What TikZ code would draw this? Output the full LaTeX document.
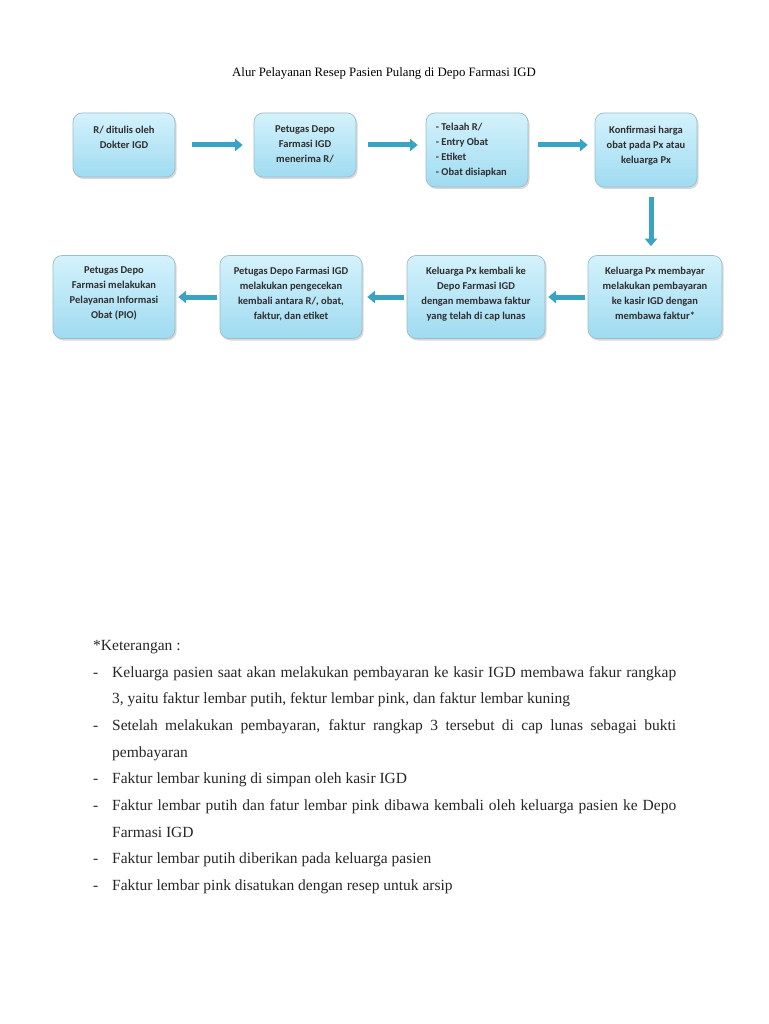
\documentclass[tikz,border=0pt]{standalone}
\usepackage{fontspec}
\setmainfont{Liberation Serif}
\newfontfamily\boxfont{Carlito}
\usetikzlibrary{arrows.meta,shadows,calc}

\definecolor{boxtop}{HTML}{D4F2FC}
\definecolor{boxbottom}{HTML}{9FDBF1}
\definecolor{boxline}{HTML}{9CBDCA}
\definecolor{flowblue}{HTML}{38A3C3}
\definecolor{boxink}{HTML}{2E2E2E}

\newcommand\catat{\hangindent=19pt\hangafter=1\noindent\makebox[19pt][l]{-}}

\tikzset{
	box/.style args={#1 by #2}{draw=boxline, line width=0.7pt, rounded corners=9pt,
		top color=boxtop, bottom color=boxbottom,
		drop shadow={opacity=0.3, shadow xshift=1.5pt, shadow yshift=-2pt},
		minimum width=#1, minimum height=#2, inner sep=0pt},
	boxtext/.style={font=\boxfont\bfseries\fontsize{10.5}{15}\selectfont, text=boxink,
		align=center, anchor=north, inner sep=0pt},
	flow/.style={draw=flowblue, line width=5pt,
		-{Triangle[width=12pt,length=7.5pt]}},
	notes/.style={font=\fontsize{15.5}{26.7}\selectfont, text=black!85,
		text width=583pt, align=justify, anchor=north west, inner sep=0pt}
}

\begin{document}
\begin{tikzpicture}[x=1pt,y=-1pt]
			%%%%% START %%%%%
			\fill[white] (0,0) rectangle (768,1024);
			\useasboundingbox (0,0) rectangle (768,1024);
			
			\node[font=\fontsize{12.8}{15}\selectfont] (judul) at (384,73) {Alur Pelayanan Resep Pasien Pulang di Depo Farmasi IGD};
			
			% top row
			\node[box=102pt by 64pt] (resep) at (124,145) {};
			\node[box=102pt by 64pt] (terima) at (305,145) {};
			\node[box=102pt by 74pt] (telaah) at (477,150) {};
			\node[box=102pt by 74pt] (konfirmasi) at (646,150) {};
			
			\node[boxtext] at ([yshift=-13pt]resep.north) {R/ ditulis oleh\\Dokter IGD};
			\node[boxtext] at ([yshift=-13pt]terima.north) {Petugas Depo\\Farmasi IGD\\menerima R/};
			\node[boxtext, align=left, anchor=north west] at ([xshift=10pt,yshift=-10.5pt]telaah.north west) {- Telaah R/\\- Entry Obat\\- Etiket\\- Obat disiapkan};
			\node[boxtext] at ([yshift=-13pt]konfirmasi.north) {Konfirmasi harga\\obat pada Px atau\\keluarga Px};
			
			% bottom row
			\node[box=134pt by 83pt] (bayar) at (655,297) {};
			\node[box=138pt by 83pt] (kembali) at (476,297) {};
			\node[box=142pt by 83pt] (cek) at (291,297) {};
			\node[box=122pt by 83pt] (pio) at (114,297) {};
			
			\node[boxtext] at ([yshift=-11.5pt]bayar.north) {Keluarga Px membayar\\melakukan pembayaran\\ke kasir IGD dengan\\membawa faktur*};
			\node[boxtext] at ([yshift=-11.5pt]kembali.north) {Keluarga Px kembali ke\\Depo Farmasi IGD\\dengan membawa faktur\\yang telah di cap lunas};
			\node[boxtext] at ([yshift=-11.5pt]cek.north) {Petugas Depo Farmasi IGD\\melakukan pengecekan\\kembali antara R/, obat,\\faktur, dan etiket};
			\node[boxtext] at ([yshift=-11.5pt]pio.north) {Petugas Depo\\Farmasi melakukan\\Pelayanan Informasi\\Obat (PIO)};
			
			% arrows
			\draw[flow, shorten <=17pt, shorten >=11pt] (resep.east) -- (resep.east -| terima.west);
			\draw[flow, shorten <=12pt, shorten >=8pt] (terima.east) -- (terima.east -| telaah.west);
			\draw[flow, shorten <=10pt, shorten >=7pt] (terima.east -| telaah.east) -- (terima.east -| konfirmasi.west);
			\draw[flow, shorten <=10pt, shorten >=9pt] ([xshift=5pt]konfirmasi.south) -- ([xshift=5pt]konfirmasi.south |- bayar.north);
			\draw[flow, shorten <=3pt, shorten >=3pt] (bayar.west) -- (kembali.east);
			\draw[flow, shorten <=3pt, shorten >=5pt] (kembali.west) -- (cek.east);
			\draw[flow, shorten <=3pt, shorten >=3pt] (cek.west) -- (pio.east);
			
			% keterangan
			\node[notes] (keterangan) at (93,640) {\hyphenpenalty=10000\exhyphenpenalty=10000
				\noindent *Keterangan :\par
				\catat Keluarga pasien saat akan melakukan pembayaran ke kasir IGD membawa fakur rangkap\linebreak 3, yaitu faktur lembar putih, fektur lembar pink, dan faktur lembar kuning\par
				\catat Setelah melakukan pembayaran, faktur rangkap 3 tersebut di cap lunas sebagai bukti\linebreak pembayaran\par
				\catat Faktur lembar kuning di simpan oleh kasir IGD\par
				\catat Faktur lembar putih dan fatur lembar pink dibawa kembali oleh keluarga pasien ke Depo\linebreak Farmasi IGD\par
				\catat Faktur lembar putih diberikan pada keluarga pasien\par
				\catat Faktur lembar pink disatukan dengan resep untuk arsip\par};
			%%%%% END %%%%%
\end{tikzpicture}
\end{document}
